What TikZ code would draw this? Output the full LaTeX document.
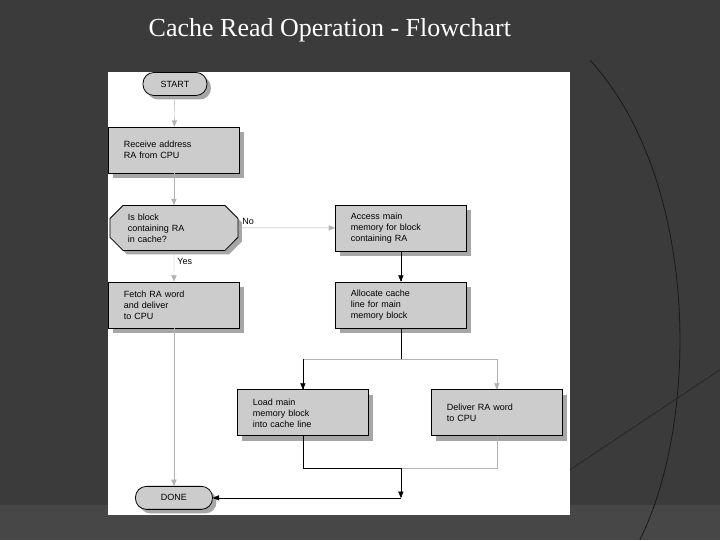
\documentclass[tikz,border=0pt]{standalone}
\usepackage{fontspec}
\setmainfont{Liberation Serif}
\newfontfamily\flowfont{Liberation Sans}
\usetikzlibrary{shapes.geometric, shapes.misc, shadows, arrows, positioning}

\begin{document}
\begin{tikzpicture}[x=1pt, y=-1pt]

% Define styles
\tikzstyle{block} = [rectangle, draw=black, thick, fill=gray!40, minimum width=131pt,
    minimum height=46pt, text width=100pt, align=left, font=\small\flowfont,
    inner sep=2pt, drop shadow={shadow xshift=5pt, shadow yshift=-5pt, fill=gray!70, opacity=1}]
\tikzstyle{term} = [rectangle, rounded corners=11pt, draw=black, thick, fill=gray!40,
    minimum height=23pt, font=\small\flowfont,
    drop shadow={shadow xshift=4pt, shadow yshift=-4pt, fill=gray!70, opacity=1}]
\tikzstyle{decision} = [chamfered rectangle, chamfered rectangle xsep=10pt, draw=black, thick,
    fill=gray!40, minimum width=128pt, minimum height=45pt, text width=92pt, align=left,
    font=\small\flowfont, inner sep=2pt,
    drop shadow={shadow xshift=4pt, shadow yshift=-4pt, fill=gray!70, opacity=1}]
\tikzstyle{line} = [draw=gray!60, thin, -triangle 45]
\tikzstyle{bline} = [draw=black, thin, -triangle 45]

% Slide background
\fill[black!77] (0,0) rectangle (720,540);
\fill[black!72] (0,505) rectangle (720,540);
\draw[black!90, thick] (590,60) .. controls (700,180) and (700,420) .. (640,540);
\draw[black!90] (570,470) -- (720,370);
\fill[white] (108,72) rectangle (570,515);
\node[white, font=\fontsize{26}{30}\selectfont] (title) at (330,30) {Cache Read Operation - Flowchart};

% Place nodes
\node[term, minimum width=64pt] (start) at (175,84) {START};
\node[block] (receive) at (174,150) {Receive address\\RA from CPU};
\node[decision] (incache) at (174,228) {Is block\\containing RA\\in cache?};
\node[block] (fetch) at (174,305) {Fetch RA word\\and deliver\\to CPU};
\node[block] (access) at (401,228) {Access main\\memory for block\\containing RA};
\node[block] (allocate) at (401,305) {Allocate cache\\line for main\\memory block};
\node[block] (load) at (303,413) {Load main\\memory block\\into cache line};
\node[block] (deliver) at (497,413) {Deliver RA word\\to CPU};
\node[term, minimum width=77pt] (done) at (174,498) {DONE};
\coordinate (split) at (401,359);
\coordinate (merge) at (401,468);
\coordinate (join) at (401,498);

% Draw edges
\path[line] (start) -- (receive);
\path[line] (receive) -- (incache);
\path[line] (incache) -- node[pos=0.35, right, font=\small\flowfont] {Yes} (fetch);
\path[line] (incache) -- node[pos=0.1, above, font=\small\flowfont] {No} (access);
\path[line] (fetch) -- (done);
\path[bline] (access) -- (allocate);
\draw[black] (allocate) -- (split);
\draw[gray!60] (split) -- (split -| load) (split) -- (split -| deliver);
\path[bline] (split -| load) -- (load);
\path[line] (split -| deliver) -- (deliver);
\draw[black] (load) |- (merge);
\draw[gray!60] (deliver) |- (merge);
\path[bline] (merge) -- (join);
\path[bline] (join) -- (done);

\end{tikzpicture}
\end{document}
